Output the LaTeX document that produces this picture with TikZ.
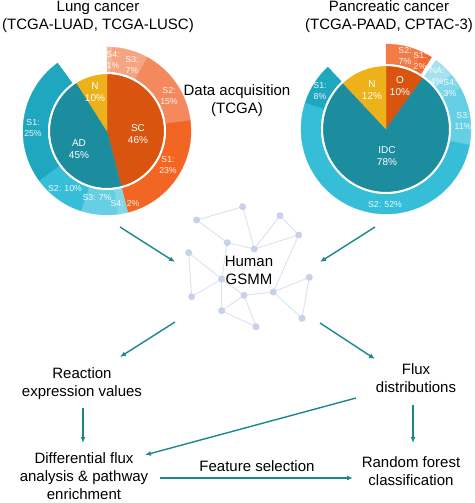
\documentclass[tikz,border=0pt]{standalone}
\usepackage{fontspec}
\setmainfont{Liberation Sans}
\usetikzlibrary{arrows.meta,calc}
\definecolor{cyel}{HTML}{EDB11A}
\definecolor{cdor}{HTML}{D9540E}
\definecolor{cteal}{HTML}{1C8C9F}
\definecolor{oS1}{HTML}{F26522}
\definecolor{oS2}{HTML}{F3895C}
\definecolor{oS3}{HTML}{F5A582}
\definecolor{oS4}{HTML}{F7B798}
\definecolor{poS2}{HTML}{F37B48}
\definecolor{poS1}{HTML}{F26A30}
\definecolor{bS1}{HTML}{20A7C0}
\definecolor{bS2}{HTML}{36BED9}
\definecolor{bS3}{HTML}{66CFE3}
\definecolor{bS4}{HTML}{7FD7E8}
\definecolor{bNA}{HTML}{A3E2EE}
\definecolor{arrc}{HTML}{1A8790}
\definecolor{netn}{HTML}{C8D0EA}
\definecolor{nete}{HTML}{DEE3F1}
\newcommand\pwedge[5]{\filldraw[fill=#5,draw=#5,line width=0.3pt] (#1) -- ([shift={(#3:#2pt)}]#1) arc[start angle=#3,end angle=#4,radius=#2pt] -- cycle;}
\newcommand\pring[6]{\filldraw[fill=#6,draw=#6,line width=0.3pt] ([shift={(#4:#3pt)}]#1) arc[start angle=#4,end angle=#5,radius=#3pt] -- ([shift={(#5:#2pt)}]#1) arc[start angle=#5,end angle=#4,radius=#2pt] -- cycle;}
\begin{document}
\begin{tikzpicture}[x=1pt,y=-1pt,
  lbl/.style={font=\fontsize{15}{18}\selectfont, align=center, inner sep=0pt, text=black},
  pin/.style={font=\fontsize{10}{12.5}\selectfont, align=center, inner sep=0pt, text=white},
  pout/.style={font=\fontsize{8.7}{11}\selectfont, align=center, inner sep=0pt, text=white, text opacity=0.92},
  arr/.style={draw=arrc, line width=1.4pt, -{Latex[length=6pt,width=5pt]}},
  netedge/.style={draw=nete, line width=1pt},
  netnode/.style={circle, fill=netn, minimum size=7pt, inner sep=0pt}]
\useasboundingbox (0,0) rectangle (474,503);
% ---------- Lung pie ----------
\coordinate (L) at (107,131);
\pwedge{L}{57}{90}{-75.6}{cdor}
\pwedge{L}{57}{-75.6}{-237.6}{cteal}
\pwedge{L}{57}{122.4}{90}{cyel}
\pring{L}{59}{84}{90}{86.4}{oS4}
\pring{L}{59}{84}{86.4}{61.2}{oS3}
\pring{L}{59}{84}{61.2}{7.2}{oS2}
\pring{L}{59}{84}{7.2}{-75.6}{oS1}
\pring{L}{59}{84}{-75.6}{-82.8}{bS4}
\pring{L}{59}{84}{-82.8}{-108}{bS3}
\pring{L}{59}{84}{-108}{-144}{bS2}
\pring{L}{59}{84}{-144}{-234}{bS1}
\draw[white, line width=2pt] (L) circle[radius=58pt];
\node[pin] (lN) at (95,92) {N\\10\%};
\node[pin] (lSC) at (138,134) {SC\\46\%};
\node[pin] (lAD) at (79,149) {AD\\45\%};
\node[pout] (lbS1) at (33,128) {S1:\\25\%};
\node[pout] (lbS2) at (65,189) {S2: 10\%};
\node[pout] (lbS3) at (97,198) {S3: 7\%};
\node[pout] (lbS4) at (125,204) {S4: 2\%};
\node[pout] (loS1) at (168,165) {S1:\\23\%};
\node[pout] (loS2) at (169,96) {S2:\\15\%};
\node[pout] (loS3) at (132,65) {S3:\\7\%};
\node[pout] (loS4) at (113,60) {S4:\\1\%};
% ---------- Pancreatic pie ----------
\coordinate (P) at (386,129);
\pwedge{P}{63}{90}{54}{cdor}
\pwedge{P}{63}{54}{-226.8}{cteal}
\pwedge{P}{63}{133.2}{90}{cyel}
\pring{P}{65}{85}{90}{64.8}{poS2}
\pring{P}{65}{85}{64.8}{57.6}{poS1}
\pring{P}{65}{85}{54}{39.6}{bNA}
\pring{P}{65}{85}{39.6}{28.8}{bS4}
\pring{P}{65}{85}{28.8}{-10.8}{bS3}
\pring{P}{65}{85}{-10.8}{-198}{bS2}
\pring{P}{65}{85}{-198}{-226.8}{bS1}
\draw[white, line width=2pt] (P) circle[radius=64pt];
\node[pin] (pN) at (372,90) {N\\12\%};
\node[pin] (pO) at (400,86) {O\\10\%};
\node[pin] (pIDC) at (387,156) {IDC\\78\%};
\node[pout] (pbS2) at (385,205) {S2: 52\%};
\node[pout] (pbS1) at (320,91) {S1:\\8\%};
\node[pout] (poS2) at (405,56) {S2:\\7\%};
\node[pout] (poS1) at (420,61) {S1:\\2\%};
\node[pout] (pNA) at (437,76) {NA:\\4\%};
\node[pout] (pS4) at (450,88) {S4:\\3\%};
\node[pout] (pS3) at (463,121) {S3:\\11\%};
% ---------- Titles ----------
\node[lbl] (tl) at (98,17) {Lung cancer\\(TCGA-LUAD, TCGA-LUSC)};
\node[lbl] (tp) at (389,17) {Pancreatic cancer\\(TCGA-PAAD, CPTAC-3)};
\node[lbl] (data) at (237,101) {Data acquisition\\(TCGA)};
% ---------- Network ----------
\foreach \n/\x/\y in {n1/242.7/206.7, n2/196.7/220, n3/280/215.7, n4/298.7/235, n5/227.3/242.7,
  n6/254.3/249, n7/188.7/252.7, n8/309.3/277.3, n9/221.7/279, n10/273.3/292, n11/244/295.3,
  n12/191.7/296.7, n13/221.7/310.7, n14/302/318.3, n15/256/326.7}
  \coordinate (\n) at (\x,\y);
\foreach \a/\b in {n2/n1, n1/n6, n2/n5, n5/n6, n6/n3, n3/n4, n6/n4, n4/n10, n7/n12, n7/n9,
  n5/n9, n9/n13, n9/n12, n9/n11, n11/n10, n10/n8, n8/n14, n10/n14, n11/n13, n11/n15, n13/n15}
  \draw[netedge] (\a) -- (\b);
\foreach \n in {n1,n2,n3,n4,n5,n6,n7,n8,n9,n10,n11,n12,n13,n14,n15}
  \node[netnode] at (\n) {};
\node[lbl] (gsmm) at (249,270) {Human\\GSMM};
% ---------- Text boxes ----------
\node[lbl] (react) at (82,384) {Reaction\\expression values};
\node[lbl] (flux) at (416,378) {Flux\\distributions};
\node[lbl] (diff) at (84,476) {Differential flux\\analysis \& pathway\\enrichment};
\node[lbl] (rf) at (411,471) {Random forest\\classification};
\node[lbl] (feat) at (257,466) {Feature selection};
% ---------- Arrows ----------
\coordinate (a1s) at (120,227); \coordinate (a1e) at (175,262);
\coordinate (a2s) at (375,227); \coordinate (a2e) at (320,262);
\coordinate (a3s) at (175,322); \coordinate (a3e) at (120,357);
\coordinate (a4s) at (320,323); \coordinate (a4e) at (375,359);
\coordinate (a5s) at (83,408);  \coordinate (a5e) at (83,443);
\coordinate (a6s) at (413,405); \coordinate (a6e) at (413,443);
\coordinate (a7s) at (356,398); \coordinate (a7e) at (145,455);
\coordinate (a8s) at (160,478); \coordinate (a8e) at (353,478);
\foreach \i in {1,...,8} \draw[arr] (a\i s) -- (a\i e);
\end{tikzpicture}
\end{document}
